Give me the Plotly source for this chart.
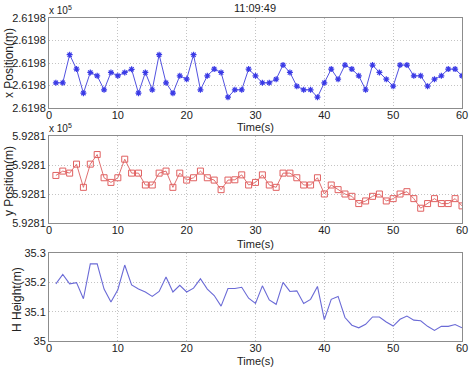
import plotly.graph_objects as go

t = list(range(1, 61))

# x position levels (tick-spacing units above the lowest tick, 261980 m + 0.5 m per tick)
x_levels = [1.12, 1.12, 2.37, 1.73, 0.66, 1.58, 1.43, 0.81, 1.58, 1.43,
            1.58, 1.72, 0.66, 1.58, 0.81, 2.37, 1.12, 0.66, 1.43, 1.28,
            2.37, 0.81, 1.43, 1.73, 1.58, 0.48, 0.81, 0.81, 1.73, 1.43,
            1.12, 1.12, 1.28, 1.91, 1.58, 0.97, 0.81, 0.81, 0.48, 1.12,
            1.73, 1.28, 1.91, 1.73, 1.43, 0.81, 1.91, 1.58, 1.28, 0.97,
            1.91, 1.91, 1.43, 1.43, 0.97, 1.28, 1.43, 1.73, 1.73, 1.43]
x_pos = [261980.0 + 0.5 * v for v in x_levels]

y_levels = [1.64, 1.79, 1.72, 2.03, 1.23, 2.03, 2.36, 1.56, 1.40, 1.56,
            2.20, 1.72, 1.72, 1.31, 1.31, 1.72, 1.79, 1.23, 1.72, 1.48,
            1.56, 1.79, 1.56, 1.48, 1.15, 1.48, 1.49, 1.66, 1.31, 1.40,
            1.66, 1.31, 1.23, 1.72, 1.72, 1.56, 1.31, 1.31, 1.56, 1.00,
            1.31, 1.15, 1.00, 0.92, 0.67, 0.76, 0.92, 1.00, 0.76, 0.84,
            1.00, 1.08, 0.84, 0.51, 0.67, 0.84, 0.67, 0.67, 0.84, 0.59]
y_pos = [592810.0 + 0.5 * v for v in y_levels]

h_height = [35.195, 35.227, 35.195, 35.199, 35.144, 35.263, 35.263, 35.177, 35.133, 35.175,
            35.259, 35.191, 35.177, 35.167, 35.152, 35.169, 35.218, 35.167, 35.190, 35.167,
            35.180, 35.212, 35.177, 35.155, 35.119, 35.179, 35.179, 35.183, 35.146, 35.128,
            35.188, 35.140, 35.125, 35.200, 35.169, 35.171, 35.128, 35.142, 35.186, 35.073,
            35.142, 35.152, 35.080, 35.054, 35.045, 35.057, 35.082, 35.082, 35.065, 35.051,
            35.074, 35.085, 35.071, 35.069, 35.050, 35.036, 35.050, 35.050, 35.056, 35.045]

x_ticks = [0, 10, 20, 30, 40, 50, 60]
x_pos_ticks = [261980.0, 261980.5, 261981.0, 261981.5, 261982.0]
x_pos_ticklabels = ["2.6198"] * 5
y_pos_ticks = [592810.0, 592810.5, 592811.0, 592811.5]
y_pos_ticklabels = ["5.9281"] * 4
h_ticks = [35.0, 35.1, 35.2, 35.3]
h_ticklabels = ["35", "35.1", "35.2", "35.3"]

W, H = 474, 369
L, R, T, B = 49, 462, 18, 341
FONT = "Liberation Sans, Arial, sans-serif"


def py(p):
    return (B - p) / (B - T)


def px(p):
    return (p - L) / (R - L)


fig = go.Figure()
fig.add_trace(go.Scatter(x=t, y=x_pos, mode="lines+markers", xaxis="x", yaxis="y",
                         line=dict(color="#5252e0", width=1),
                         marker=dict(symbol="asterisk-open", size=5, color="#3a3ae6",
                                     line=dict(color="#3a3ae6", width=1.2))))
fig.add_trace(go.Scatter(x=t, y=y_pos, mode="lines+markers", xaxis="x2", yaxis="y2",
                         line=dict(color="#e07070", width=1),
                         marker=dict(symbol="square-open", size=6, color="#e06060",
                                     line=dict(color="#e06060", width=1))))
fig.add_trace(go.Scatter(x=t, y=h_height, mode="lines", xaxis="x3", yaxis="y3",
                         line=dict(color="#6a6ad6", width=1.1)))

axis_common = dict(showline=True, mirror=True, linecolor="#8c8c8c", linewidth=1,
                   showgrid=True, gridcolor="#c4c4c4", griddash="1px,2px", gridwidth=1,
                   ticks="", zeroline=False, automargin=False,
                   tickfont=dict(family=FONT, size=11, color="#222"))

xa = dict(range=[0, 60], tickvals=x_ticks, ticklabelstandoff=-3, **axis_common)
fig.update_layout(
    width=W, height=H,
    margin=dict(l=L, r=W - R, t=T, b=H - B),
    paper_bgcolor="white", plot_bgcolor="white",
    showlegend=False,
    xaxis=dict(domain=[0, 1], anchor="y", **xa),
    xaxis2=dict(domain=[0, 1], anchor="y2", **xa),
    xaxis3=dict(domain=[0, 1], anchor="y3", **xa),
    yaxis=dict(domain=[py(108), 1], anchor="x", range=[261980.0, 261982.0],
               tickvals=x_pos_ticks, ticktext=x_pos_ticklabels, **axis_common),
    yaxis2=dict(domain=[py(223), py(136)], anchor="x2", range=[592810.0, 592811.5],
                tickvals=y_pos_ticks, ticktext=y_pos_ticklabels, **axis_common),
    yaxis3=dict(domain=[0, py(253)], anchor="x3", range=[35.0, 35.3],
                tickvals=h_ticks, ticktext=h_ticklabels, **axis_common),
)

ann = []


def add_text(text, x, y, size=12, angle=0, xanchor="center"):
    ann.append(dict(text=text, x=px(x), y=py(y), xref="paper", yref="paper",
                    showarrow=False, textangle=angle, xanchor=xanchor, yanchor="middle",
                    font=dict(family=FONT, size=size, color="#222")))


add_text("11:09:49", 255, 8, size=11)
add_text("x 10<sup>5</sup>", 47, 10, size=10, xanchor="left")
add_text("x 10<sup>5</sup>", 47, 128, size=10, xanchor="left")
add_text("Time(s)", 255, 127, size=11)
add_text("Time(s)", 255, 244, size=11)
add_text("Time(s)", 255, 361, size=11)
add_text("x Position(m)", 9, 63, size=12, angle=-90)
add_text("y Position(m)", 9, 181, size=12, angle=-90)
add_text("H Height(m)", 17, 300, size=12, angle=-90)
fig.update_layout(annotations=ann)

fig.write_html("out.html", config={"displayModeBar": False},
               post_script="document.body.style.margin='0';")
